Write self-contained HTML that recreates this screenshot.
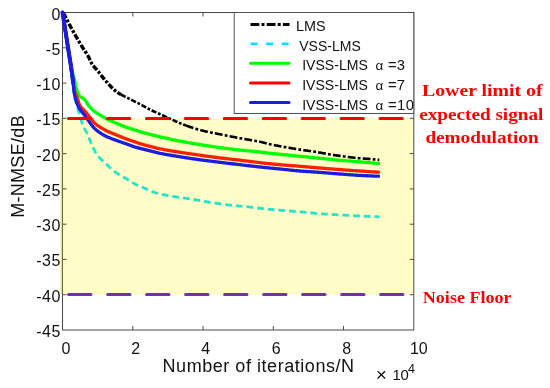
<!DOCTYPE html>
<html><head><meta charset="utf-8"><title>M-NMSE</title>
<style>
html,body{margin:0;padding:0;background:#fff;}
svg{display:block;font-family:"Liberation Sans",sans-serif;}
.tk{font-size:16px;fill:#111;}
.lg{font-size:15.3px;fill:#111;}
.ann{font-family:"Liberation Serif",serif;font-weight:bold;font-size:17.3px;fill:#ff0000;}
</style></head><body>
<svg width="550" height="388" viewBox="0 0 550 388">
<rect width="550" height="388" fill="#fff"/>
<rect x="62.5" y="118.3" width="351.3" height="176.4" fill="#fffcc8"/>

<g stroke="#4a4a4a" stroke-width="1" fill="none">
<rect x="62.5" y="12.5" width="351.3" height="317.5"/>
<line x1="132.8" y1="330.0" x2="132.8" y2="326.0"/><line x1="132.8" y1="12.5" x2="132.8" y2="16.5"/><line x1="203.0" y1="330.0" x2="203.0" y2="326.0"/><line x1="203.0" y1="12.5" x2="203.0" y2="16.5"/><line x1="273.3" y1="330.0" x2="273.3" y2="326.0"/><line x1="273.3" y1="12.5" x2="273.3" y2="16.5"/><line x1="343.5" y1="330.0" x2="343.5" y2="326.0"/><line x1="343.5" y1="12.5" x2="343.5" y2="16.5"/><line x1="62.5" y1="47.8" x2="66.5" y2="47.8"/><line x1="413.8" y1="47.8" x2="409.8" y2="47.8"/><line x1="62.5" y1="83.1" x2="66.5" y2="83.1"/><line x1="413.8" y1="83.1" x2="409.8" y2="83.1"/><line x1="62.5" y1="118.3" x2="66.5" y2="118.3"/><line x1="413.8" y1="118.3" x2="409.8" y2="118.3"/><line x1="62.5" y1="153.6" x2="66.5" y2="153.6"/><line x1="413.8" y1="153.6" x2="409.8" y2="153.6"/><line x1="62.5" y1="188.9" x2="66.5" y2="188.9"/><line x1="413.8" y1="188.9" x2="409.8" y2="188.9"/><line x1="62.5" y1="224.2" x2="66.5" y2="224.2"/><line x1="413.8" y1="224.2" x2="409.8" y2="224.2"/><line x1="62.5" y1="259.4" x2="66.5" y2="259.4"/><line x1="413.8" y1="259.4" x2="409.8" y2="259.4"/><line x1="62.5" y1="294.7" x2="66.5" y2="294.7"/><line x1="413.8" y1="294.7" x2="409.8" y2="294.7"/>
</g>
<line x1="61.4" y1="118.3" x2="61.4" y2="294.7" stroke="#ecec50" stroke-width="1.6"/>
<g fill="none" stroke-linejoin="round">
<polyline points="63.50,13.00 63.75,13.50 64.00,14.00 64.25,14.50 64.50,15.00 64.75,15.50 65.00,15.99 65.25,16.48 65.50,16.98 65.75,17.47 66.00,17.96 66.25,18.44 66.50,18.93 66.75,19.42 67.00,19.90 67.25,20.38 67.50,20.86 67.75,21.34 68.00,21.82 68.25,22.30 68.50,22.77 68.75,23.25 69.00,23.72 69.25,24.19 69.50,24.66 69.75,25.13 70.00,25.60 70.25,26.06 70.50,26.53 70.75,26.99 71.00,27.45 71.25,27.91 71.50,28.37 71.75,28.83 72.00,29.29 72.25,29.75 72.50,30.20 72.75,30.65 73.00,31.11 73.25,31.56 73.50,32.01 73.75,32.46 74.00,32.90 74.25,33.35 74.50,33.80 74.75,34.24 75.00,34.68 75.25,35.13 75.50,35.57 75.75,36.01 76.00,36.45 76.25,36.88 76.50,37.32 76.75,37.75 77.00,38.19 77.25,38.62 77.50,39.05 77.75,39.49 78.00,39.92 78.25,40.35 78.50,40.77 78.75,41.20 79.00,41.63 79.25,42.05 79.50,42.48 79.75,42.90 80.00,43.32 80.25,43.74 80.50,44.16 80.75,44.58 81.00,45.00 81.25,45.41 81.50,45.82 81.75,46.22 82.00,46.62 82.25,47.01 82.50,47.40 82.75,47.78 83.00,48.16 83.25,48.54 83.50,48.91 83.75,49.29 84.00,49.66 84.25,50.03 84.50,50.40 84.75,50.78 85.00,51.15 85.25,51.53 85.50,51.90 85.75,52.29 86.00,52.67 86.25,53.06 86.50,53.45 86.75,53.85 87.00,54.26 87.25,54.67 87.50,55.09 87.75,55.51 88.00,55.95 88.25,56.39 88.50,56.85 88.75,57.34 89.00,57.85 89.25,58.38 89.50,58.91 89.75,59.45 90.00,60.00 90.25,60.54 90.50,61.07 90.75,61.60 91.00,62.11 91.25,62.60 91.50,63.06 91.75,63.50 92.00,63.90 92.25,64.28 92.50,64.64 92.75,65.00 93.00,65.34 93.25,65.67 93.50,65.99 93.75,66.30 94.00,66.61 94.25,66.90 94.50,67.20 94.75,67.48 95.00,67.77 95.25,68.05 95.50,68.32 95.75,68.60 96.00,68.88 96.25,69.15 96.50,69.43 96.75,69.71 97.00,69.99 97.25,70.28 97.50,70.57 97.75,70.87 98.00,71.18 98.25,71.49 98.50,71.80 98.75,72.12 99.00,72.44 99.25,72.76 99.50,73.09 99.75,73.41 100.00,73.74 101.00,75.05 102.00,76.36 103.00,77.64 104.00,78.88 105.00,80.08 106.00,81.26 107.00,82.42 108.00,83.55 109.00,84.64 110.00,85.69 111.00,86.70 112.00,87.69 113.00,88.66 114.00,89.60 115.00,90.48 116.00,91.30 117.00,92.04 118.00,92.72 119.00,93.35 120.00,93.94 121.00,94.50" stroke="#000" stroke-width="3.4" stroke-dasharray="5.8 1.7 2.9 1.7"/>
<polyline points="121.00,94.50 122.00,95.05 123.00,95.59 124.00,96.13 125.00,96.65 126.00,97.16 127.00,97.66 128.00,98.15 129.00,98.65 130.00,99.15 131.00,99.65 132.00,100.15 133.00,100.65 134.00,101.15 135.00,101.65 136.00,102.15 137.00,102.65 138.00,103.14 139.00,103.64 140.00,104.16 141.00,104.68 142.00,105.22 143.00,105.77 144.00,106.32 145.00,106.87 146.00,107.42 147.00,107.97 148.00,108.51 149.00,109.04 150.00,109.55 151.00,110.05 152.00,110.53 153.00,111.01 154.00,111.47 155.00,111.93 156.00,112.39 157.00,112.84 158.00,113.29 159.00,113.75 160.00,114.20 161.00,114.66 162.00,115.11 163.00,115.56 164.00,116.01 165.00,116.46 166.00,116.91 167.00,117.35 168.00,117.80 169.00,118.25 170.00,118.70 171.00,119.16 172.00,119.62 173.00,120.09 174.00,120.55 175.00,121.02 176.00,121.48 177.00,121.93 178.00,122.37 179.00,122.80 180.00,123.20 181.00,123.59 182.00,123.98 183.00,124.37 184.00,124.75 185.00,125.12 186.00,125.49" stroke="#000" stroke-width="2.6" stroke-dasharray="5.3 1.7 2.8 1.7"/>
<polyline points="186.00,125.49 187.00,125.86 188.00,126.22 189.00,126.58 190.00,126.93 191.00,127.27 192.00,127.60 193.00,127.93 194.00,128.25 195.00,128.57 196.00,128.87 197.00,129.17 198.00,129.45 199.00,129.73 200.00,130.00 201.00,130.26 202.00,130.51 203.00,130.75 204.00,130.99 205.00,131.22 206.00,131.45 207.00,131.66 208.00,131.88 209.00,132.09 210.00,132.30 211.00,132.50 212.00,132.70 213.00,132.90 214.00,133.10 215.00,133.30 216.00,133.50 217.00,133.70 218.00,133.90 219.00,134.10 220.00,134.30 221.00,134.50 222.00,134.71 223.00,134.91 224.00,135.11 225.00,135.31 226.00,135.51 227.00,135.71 228.00,135.90 229.00,136.10 230.00,136.29 231.00,136.49 232.00,136.68 233.00,136.87 234.00,137.07 235.00,137.26 236.00,137.45 237.00,137.64 238.00,137.83 239.00,138.02 240.00,138.21 241.00,138.39 242.00,138.58 243.00,138.76 244.00,138.93 245.00,139.11 246.00,139.28 247.00,139.45 248.00,139.62 249.00,139.79 250.00,139.96 251.00,140.13 252.00,140.31 253.00,140.48 254.00,140.65 255.00,140.83 256.00,141.01 257.00,141.20 258.00,141.39 259.00,141.58 260.00,141.78 261.00,141.99 262.00,142.20 263.00,142.43 264.00,142.67 265.00,142.93 266.00,143.19 267.00,143.46 268.00,143.72 269.00,143.97 270.00,144.20 271.00,144.42 272.00,144.63 273.00,144.84 274.00,145.05 275.00,145.25 276.00,145.44 277.00,145.64 278.00,145.83 279.00,146.01 280.00,146.20 281.00,146.38 282.00,146.57 283.00,146.75 284.00,146.93 285.00,147.10 286.00,147.28 287.00,147.45 288.00,147.62 289.00,147.80 290.00,147.97 291.00,148.13 292.00,148.30 293.00,148.47 294.00,148.63 295.00,148.79 296.00,148.96 297.00,149.12 298.00,149.28 299.00,149.44 300.00,149.60 301.00,149.76 302.00,149.91 303.00,150.06 304.00,150.21 305.00,150.36 306.00,150.50 307.00,150.65 308.00,150.79 309.00,150.93 310.00,151.07 311.00,151.22 312.00,151.36 313.00,151.51 314.00,151.65 315.00,151.80 316.00,151.96 317.00,152.11 318.00,152.27 319.00,152.43 320.00,152.60 321.00,152.78 322.00,152.96 323.00,153.16 324.00,153.36 325.00,153.56 326.00,153.76 327.00,153.96 328.00,154.15 329.00,154.33 330.00,154.50 331.00,154.66 332.00,154.81 333.00,154.96 334.00,155.10 335.00,155.24 336.00,155.37 337.00,155.51 338.00,155.64 339.00,155.77 340.00,155.90 341.00,156.03 342.00,156.16 343.00,156.30 344.00,156.43 345.00,156.56 346.00,156.69 347.00,156.82 348.00,156.96 349.00,157.08 350.00,157.21 351.00,157.34 352.00,157.46 353.00,157.58 354.00,157.69 355.00,157.81 356.00,157.91 357.00,158.02 358.00,158.12 359.00,158.21 360.00,158.30 361.00,158.38 362.00,158.46 363.00,158.53 364.00,158.59 365.00,158.66 366.00,158.72 367.00,158.78 368.00,158.85 369.00,158.92 370.00,159.00 371.00,159.08 372.00,159.17 373.00,159.26 374.00,159.35 375.00,159.45 376.00,159.55 377.00,159.65 378.00,159.76 379.00,159.87 379.30,159.90" stroke="#000" stroke-width="2.6" stroke-dasharray="7.8 2.2 2.8 2.2"/>
<polyline points="62.50,12.50 62.75,14.15 63.00,15.81 63.25,17.47 63.50,19.14 63.75,20.81 64.00,22.49 64.25,24.16 64.50,25.85 64.75,27.54 65.00,29.23 65.25,30.93 65.50,32.63 65.75,34.33 66.00,36.04 66.25,37.75 66.50,39.47 66.75,41.20 67.00,42.92 67.25,44.65 67.50,46.39 67.75,48.12 68.00,49.86 68.25,51.60 68.50,53.34 68.75,55.08 69.00,56.83 69.25,58.59 69.50,60.34 69.75,62.11 70.00,63.87 70.25,65.65 70.50,67.43 70.75,69.22 71.00,71.02 71.25,72.82 71.50,74.64 71.75,76.46 72.00,78.30 72.25,80.14 72.50,82.00 72.75,83.93 73.00,85.93 73.25,87.94 73.50,89.88 73.75,91.67 74.00,93.30 74.25,94.89 74.50,96.40 74.75,97.80 75.00,99.08 75.25,100.21 75.50,101.22 75.75,102.15 76.00,103.01 76.25,103.82 76.50,104.60 76.75,105.36 77.00,106.11 77.25,106.88 77.50,107.67 77.75,108.50 78.00,109.33 78.25,110.16 78.50,110.99 78.75,111.82 79.00,112.65 79.25,113.49 79.50,114.34 79.75,115.20 80.00,116.07 80.25,116.94 80.50,117.81 80.75,118.67 81.00,119.57 81.25,120.49 81.50,121.40 81.75,122.24 82.00,123.00 82.25,123.68 82.50,124.34 82.75,124.96 83.00,125.56 83.25,126.13 83.50,126.69 83.75,127.22 84.00,127.74 84.25,128.24 84.50,128.73 84.75,129.22 85.00,129.69 85.25,130.12 85.50,130.53 85.75,130.91 86.00,131.30 86.25,131.70 86.50,132.13 86.75,132.60 87.00,133.10 87.25,133.64 87.50,134.20 87.75,134.78 88.00,135.39 88.25,136.01 88.50,136.65 88.75,137.30 89.00,137.96 89.25,138.62 89.50,139.28 89.75,139.94 90.00,140.59 90.25,141.23 90.50,141.86 90.75,142.48 91.00,143.08 91.25,143.65 91.50,144.20 91.75,144.74 92.00,145.27 92.25,145.81 92.50,146.34 92.75,146.87 93.00,147.40 93.25,147.93 93.50,148.45 93.75,148.96 94.00,149.47 94.25,149.97 94.50,150.46 94.75,150.95 95.00,151.42 95.25,151.88 95.50,152.33 95.75,152.77 96.00,153.19 96.25,153.60 96.50,153.99 96.75,154.37 97.00,154.73 97.25,155.07 97.50,155.40 97.75,155.72 98.00,156.03 98.25,156.34 98.50,156.63 98.75,156.93 99.00,157.21 99.25,157.49 99.50,157.76 99.75,158.03 100.00,158.29 101.00,159.29 102.00,160.23 103.00,161.13 104.00,162.02 105.00,162.90 106.00,163.82 107.00,164.77 108.00,165.73 109.00,166.70 110.00,167.65 111.00,168.59 112.00,169.51 113.00,170.38 114.00,171.21 115.00,171.98 116.00,172.69 117.00,173.36 118.00,173.98 119.00,174.58 120.00,175.16 121.00,175.72 122.00,176.27 123.00,176.82 124.00,177.39 125.00,177.96 126.00,178.56 127.00,179.18 128.00,179.80 129.00,180.43 130.00,181.06 131.00,181.68 132.00,182.29 133.00,182.88 134.00,183.45 135.00,183.99 136.00,184.50 137.00,184.99 138.00,185.46 139.00,185.92 140.00,186.37 141.00,186.80 142.00,187.23 143.00,187.65 144.00,188.07 145.00,188.49 146.00,188.91 147.00,189.34 148.00,189.78 149.00,190.21 150.00,190.64 151.00,191.06 152.00,191.46 153.00,191.85 154.00,192.21 155.00,192.54 156.00,192.85 157.00,193.14 158.00,193.41 159.00,193.68 160.00,193.93 161.00,194.17 162.00,194.41 163.00,194.63 164.00,194.84 165.00,195.05 166.00,195.24 167.00,195.43 168.00,195.61 169.00,195.79 170.00,195.95 171.00,196.12 172.00,196.27 173.00,196.42 174.00,196.57 175.00,196.72 176.00,196.86 177.00,197.00 178.00,197.14 179.00,197.27 180.00,197.41 181.00,197.55 182.00,197.69 183.00,197.83 184.00,197.97 185.00,198.11 186.00,198.26 187.00,198.41 188.00,198.57 189.00,198.73 190.00,198.89 191.00,199.06 192.00,199.23 193.00,199.40 194.00,199.58 195.00,199.75 196.00,199.93 197.00,200.11 198.00,200.28 199.00,200.46 200.00,200.64 201.00,200.81 202.00,200.99 203.00,201.16 204.00,201.33 205.00,201.50 206.00,201.67 207.00,201.84 208.00,202.00 209.00,202.15 210.00,202.31 211.00,202.46 212.00,202.62 213.00,202.77 214.00,202.92 215.00,203.07 216.00,203.22 217.00,203.37 218.00,203.52 219.00,203.67 220.00,203.81 221.00,203.96 222.00,204.10 223.00,204.24 224.00,204.37 225.00,204.51 226.00,204.64 227.00,204.77 228.00,204.90 229.00,205.02 230.00,205.14 231.00,205.25 232.00,205.37 233.00,205.47 234.00,205.58 235.00,205.68 236.00,205.78 237.00,205.87 238.00,205.96 239.00,206.05 240.00,206.14 241.00,206.23 242.00,206.31 243.00,206.40 244.00,206.49 245.00,206.57 246.00,206.66 247.00,206.75 248.00,206.85 249.00,206.94 250.00,207.04 251.00,207.14 252.00,207.25 253.00,207.36 254.00,207.47 255.00,207.60 256.00,207.73 257.00,207.86 258.00,208.00 259.00,208.13 260.00,208.26 261.00,208.39 262.00,208.52 263.00,208.63 264.00,208.74 265.00,208.85 266.00,208.95 267.00,209.05 268.00,209.14 269.00,209.24 270.00,209.33 271.00,209.42 272.00,209.51 273.00,209.60 274.00,209.69 275.00,209.77 276.00,209.86 277.00,209.94 278.00,210.03 279.00,210.11 280.00,210.20 281.00,210.28 282.00,210.37 283.00,210.45 284.00,210.53 285.00,210.61 286.00,210.69 287.00,210.77 288.00,210.84 289.00,210.92 290.00,211.00 291.00,211.07 292.00,211.15 293.00,211.23 294.00,211.31 295.00,211.39 296.00,211.47 297.00,211.55 298.00,211.63 299.00,211.71 300.00,211.80 301.00,211.89 302.00,211.98 303.00,212.08 304.00,212.17 305.00,212.27 306.00,212.37 307.00,212.48 308.00,212.58 309.00,212.68 310.00,212.78 311.00,212.89 312.00,212.99 313.00,213.09 314.00,213.18 315.00,213.28 316.00,213.37 317.00,213.46 318.00,213.54 319.00,213.62 320.00,213.70 321.00,213.77 322.00,213.84 323.00,213.91 324.00,213.98 325.00,214.04 326.00,214.10 327.00,214.16 328.00,214.22 329.00,214.28 330.00,214.34 331.00,214.40 332.00,214.45 333.00,214.51 334.00,214.56 335.00,214.62 336.00,214.67 337.00,214.73 338.00,214.79 339.00,214.84 340.00,214.90 341.00,214.96 342.00,215.02 343.00,215.08 344.00,215.14 345.00,215.20 346.00,215.26 347.00,215.32 348.00,215.38 349.00,215.44 350.00,215.50 351.00,215.56 352.00,215.62 353.00,215.68 354.00,215.74 355.00,215.79 356.00,215.85 357.00,215.91 358.00,215.96 359.00,216.01 360.00,216.07 361.00,216.12 362.00,216.16 363.00,216.21 364.00,216.26 365.00,216.30 366.00,216.34 367.00,216.38 368.00,216.42 369.00,216.46 370.00,216.50 371.00,216.54 372.00,216.57 373.00,216.61 374.00,216.64 375.00,216.67 376.00,216.70 377.00,216.73 378.00,216.76 379.00,216.79 379.30,216.80" stroke="#22e6cc" stroke-width="2.8" stroke-dasharray="6.8 3.9"/>
<polyline points="62.50,12.50 62.75,14.04 63.00,15.57 63.25,17.11 63.50,18.65 63.75,20.18 64.00,21.72 64.25,23.25 64.50,24.79 64.75,26.32 65.00,27.86 65.25,29.39 65.50,30.92 65.75,32.45 66.00,33.98 66.25,35.52 66.50,37.05 66.75,38.58 67.00,40.11 67.25,41.64 67.50,43.17 67.75,44.69 68.00,46.24 68.25,47.81 68.50,49.42 68.75,51.04 69.00,52.68 69.25,54.32 69.50,55.96 69.75,57.59 70.00,59.19 70.25,60.78 70.50,62.32 70.75,63.83 71.00,65.29 71.25,66.69 71.50,68.02 71.75,69.28 72.00,70.46 72.25,71.56 72.50,72.59 72.75,73.56 73.00,74.49 73.25,75.39 73.50,76.27 73.75,77.15 74.00,78.04 74.25,78.96 74.50,79.92 74.75,80.93 75.00,82.00 75.25,83.22 75.50,84.58 75.75,85.94 76.00,87.18 76.25,88.18 76.50,89.06 76.75,89.90 77.00,90.70 77.25,91.46 77.50,92.18 77.75,92.84 78.00,93.45 78.25,93.99 78.50,94.47 78.75,94.89 79.00,95.23 79.25,95.54 79.50,95.82 79.75,96.08 80.00,96.32 80.25,96.55 80.50,96.75 80.75,96.95 81.00,97.13 81.25,97.29 81.50,97.46 81.75,97.61 82.00,97.76 82.25,97.91 82.50,98.06 82.75,98.21 83.00,98.37 83.25,98.53 83.50,98.70 83.75,98.87 84.00,99.07 84.25,99.27 84.50,99.49 84.75,99.73 85.00,99.99 85.25,100.28 85.50,100.61 85.75,100.98 86.00,101.39 86.25,101.82 86.50,102.27 86.75,102.72 87.00,103.18 87.25,103.63 87.50,104.06 87.75,104.46 88.00,104.83 88.25,105.16 88.50,105.47 88.75,105.78 89.00,106.08 89.25,106.37 89.50,106.65 89.75,106.93 90.00,107.21 90.25,107.47 90.50,107.74 90.75,107.99 91.00,108.24 91.25,108.49 91.50,108.73 91.75,108.97 92.00,109.20 92.25,109.43 92.50,109.66 92.75,109.88 93.00,110.10 93.25,110.31 93.50,110.52 93.75,110.73 94.00,110.94 94.25,111.14 94.50,111.34 94.75,111.54 95.00,111.73 95.25,111.92 95.50,112.10 95.75,112.29 96.00,112.47 96.25,112.64 96.50,112.82 96.75,112.99 97.00,113.16 97.25,113.33 97.50,113.49 97.75,113.66 98.00,113.82 98.25,113.98 98.50,114.14 98.75,114.30 99.00,114.45 99.25,114.61 99.50,114.77 99.75,114.92 100.00,115.08 101.00,115.69 102.00,116.28 103.00,116.86 104.00,117.41 105.00,117.95 106.00,118.47 107.00,118.98 108.00,119.48 109.00,119.96 110.00,120.44 111.00,120.91 112.00,121.37 113.00,121.83 114.00,122.27 115.00,122.71 116.00,123.15 117.00,123.57 118.00,123.99 119.00,124.40 120.00,124.81 121.00,125.20 122.00,125.59 123.00,125.98 124.00,126.36 125.00,126.73 126.00,127.09 127.00,127.44 128.00,127.79 129.00,128.13 130.00,128.47 131.00,128.80 132.00,129.13 133.00,129.45 134.00,129.78 135.00,130.10 136.00,130.43 137.00,130.76 138.00,131.08 139.00,131.40 140.00,131.70 141.00,131.99 142.00,132.27 143.00,132.55 144.00,132.82 145.00,133.09 146.00,133.36 147.00,133.62 148.00,133.88 149.00,134.13 150.00,134.38 151.00,134.63 152.00,134.88 153.00,135.13 154.00,135.37 155.00,135.61 156.00,135.85 157.00,136.09 158.00,136.33 159.00,136.56 160.00,136.80 161.00,137.04 162.00,137.27 163.00,137.51 164.00,137.74 165.00,137.97 166.00,138.20 167.00,138.43 168.00,138.66 169.00,138.89 170.00,139.11 171.00,139.33 172.00,139.55 173.00,139.77 174.00,139.98 175.00,140.19 176.00,140.40 177.00,140.61 178.00,140.81 179.00,141.01 180.00,141.20 181.00,141.39 182.00,141.58 183.00,141.76 184.00,141.94 185.00,142.12 186.00,142.29 187.00,142.47 188.00,142.64 189.00,142.81 190.00,142.97 191.00,143.14 192.00,143.30 193.00,143.47 194.00,143.63 195.00,143.79 196.00,143.95 197.00,144.12 198.00,144.28 199.00,144.44 200.00,144.60 201.00,144.76 202.00,144.93 203.00,145.09 204.00,145.25 205.00,145.41 206.00,145.58 207.00,145.74 208.00,145.90 209.00,146.06 210.00,146.22 211.00,146.37 212.00,146.53 213.00,146.68 214.00,146.84 215.00,146.99 216.00,147.14 217.00,147.28 218.00,147.42 219.00,147.56 220.00,147.70 221.00,147.83 222.00,147.97 223.00,148.10 224.00,148.23 225.00,148.36 226.00,148.48 227.00,148.61 228.00,148.73 229.00,148.85 230.00,148.97 231.00,149.09 232.00,149.21 233.00,149.33 234.00,149.44 235.00,149.55 236.00,149.67 237.00,149.78 238.00,149.89 239.00,149.99 240.00,150.10 241.00,150.20 242.00,150.30 243.00,150.40 244.00,150.50 245.00,150.59 246.00,150.68 247.00,150.77 248.00,150.86 249.00,150.95 250.00,151.04 251.00,151.12 252.00,151.21 253.00,151.30 254.00,151.39 255.00,151.49 256.00,151.58 257.00,151.68 258.00,151.78 259.00,151.89 260.00,152.00 261.00,152.12 262.00,152.24 263.00,152.37 264.00,152.51 265.00,152.65 266.00,152.79 267.00,152.92 268.00,153.06 269.00,153.18 270.00,153.30 271.00,153.41 272.00,153.52 273.00,153.62 274.00,153.72 275.00,153.82 276.00,153.91 277.00,154.01 278.00,154.10 279.00,154.20 280.00,154.30 281.00,154.40 282.00,154.50 283.00,154.60 284.00,154.70 285.00,154.80 286.00,154.90 287.00,155.00 288.00,155.10 289.00,155.20 290.00,155.30 291.00,155.40 292.00,155.50 293.00,155.60 294.00,155.70 295.00,155.80 296.00,155.90 297.00,156.00 298.00,156.10 299.00,156.20 300.00,156.30 301.00,156.40 302.00,156.50 303.00,156.60 304.00,156.70 305.00,156.80 306.00,156.90 307.00,157.00 308.00,157.10 309.00,157.20 310.00,157.30 311.00,157.40 312.00,157.50 313.00,157.60 314.00,157.70 315.00,157.80 316.00,157.90 317.00,158.00 318.00,158.10 319.00,158.20 320.00,158.30 321.00,158.40 322.00,158.50 323.00,158.60 324.00,158.71 325.00,158.81 326.00,158.91 327.00,159.02 328.00,159.12 329.00,159.22 330.00,159.33 331.00,159.43 332.00,159.53 333.00,159.63 334.00,159.73 335.00,159.83 336.00,159.93 337.00,160.02 338.00,160.12 339.00,160.21 340.00,160.30 341.00,160.39 342.00,160.47 343.00,160.56 344.00,160.64 345.00,160.72 346.00,160.80 347.00,160.88 348.00,160.96 349.00,161.04 350.00,161.11 351.00,161.19 352.00,161.27 353.00,161.35 354.00,161.42 355.00,161.50 356.00,161.58 357.00,161.66 358.00,161.74 359.00,161.82 360.00,161.90 361.00,161.98 362.00,162.07 363.00,162.15 364.00,162.23 365.00,162.32 366.00,162.40 367.00,162.49 368.00,162.57 369.00,162.66 370.00,162.75 371.00,162.83 372.00,162.92 373.00,163.01 374.00,163.09 375.00,163.18 376.00,163.27 377.00,163.36 378.00,163.45 378.60,163.50" stroke="#00ff00" stroke-width="3.3" stroke-linecap="round"/>
<polyline points="62.50,12.50 62.75,14.05 63.00,15.61 63.25,17.17 63.50,18.74 63.75,20.30 64.00,21.88 64.25,23.46 64.50,25.04 64.75,26.62 65.00,28.21 65.25,29.81 65.50,31.41 65.75,33.01 66.00,34.62 66.25,36.23 66.50,37.84 66.75,39.46 67.00,41.09 67.25,42.71 67.50,44.35 67.75,45.98 68.00,47.63 68.25,49.28 68.50,50.94 68.75,52.61 69.00,54.28 69.25,55.96 69.50,57.65 69.75,59.34 70.00,61.03 70.25,62.72 70.50,64.42 70.75,66.11 71.00,67.81 71.25,69.51 71.50,71.21 71.75,72.90 72.00,74.59 72.25,76.28 72.50,77.97 72.75,79.65 73.00,81.33 73.25,83.05 73.50,84.90 73.75,86.76 74.00,88.44 74.25,89.79 74.50,90.77 74.75,91.63 75.00,92.38 75.25,93.07 75.50,93.69 75.75,94.27 76.00,94.83 76.25,95.40 76.50,95.98 76.75,96.60 77.00,97.28 77.25,98.00 77.50,98.76 77.75,99.54 78.00,100.32 78.25,101.10 78.50,101.87 78.75,102.60 79.00,103.30 79.25,103.94 79.50,104.51 79.75,105.01 80.00,105.44 80.25,105.84 80.50,106.22 80.75,106.58 81.00,106.91 81.25,107.23 81.50,107.54 81.75,107.83 82.00,108.11 82.25,108.38 82.50,108.64 82.75,108.90 83.00,109.16 83.25,109.41 83.50,109.67 83.75,109.93 84.00,110.19 84.25,110.47 84.50,110.75 84.75,111.04 85.00,111.34 85.25,111.64 85.50,111.95 85.75,112.25 86.00,112.55 86.25,112.86 86.50,113.16 86.75,113.46 87.00,113.77 87.25,114.07 87.50,114.38 87.75,114.68 88.00,114.98 88.25,115.29 88.50,115.59 88.75,115.90 89.00,116.20 89.25,116.51 89.50,116.82 89.75,117.14 90.00,117.46 90.25,117.79 90.50,118.12 90.75,118.46 91.00,118.79 91.25,119.12 91.50,119.45 91.75,119.79 92.00,120.11 92.25,120.44 92.50,120.76 92.75,121.07 93.00,121.38 93.25,121.68 93.50,121.97 93.75,122.25 94.00,122.53 94.25,122.79 94.50,123.04 94.75,123.28 95.00,123.50 95.25,123.71 95.50,123.92 95.75,124.13 96.00,124.33 96.25,124.53 96.50,124.73 96.75,124.92 97.00,125.11 97.25,125.29 97.50,125.48 97.75,125.66 98.00,125.83 98.25,126.00 98.50,126.18 98.75,126.34 99.00,126.51 99.25,126.67 99.50,126.83 99.75,126.99 100.00,127.15 101.00,127.75 102.00,128.32 103.00,128.88 104.00,129.42 105.00,129.95 106.00,130.46 107.00,130.95 108.00,131.43 109.00,131.88 110.00,132.32 111.00,132.75 112.00,133.17 113.00,133.58 114.00,134.00 115.00,134.42 116.00,134.84 117.00,135.25 118.00,135.67 119.00,136.08 120.00,136.48 121.00,136.88 122.00,137.28 123.00,137.67 124.00,138.05 125.00,138.43 126.00,138.79 127.00,139.15 128.00,139.51 129.00,139.86 130.00,140.20 131.00,140.54 132.00,140.88 133.00,141.22 134.00,141.56 135.00,141.90 136.00,142.24 137.00,142.60 138.00,142.95 139.00,143.28 140.00,143.60 141.00,143.90 142.00,144.20 143.00,144.49 144.00,144.78 145.00,145.07 146.00,145.35 147.00,145.63 148.00,145.90 149.00,146.17 150.00,146.44 151.00,146.69 152.00,146.95 153.00,147.20 154.00,147.44 155.00,147.68 156.00,147.92 157.00,148.15 158.00,148.37 159.00,148.59 160.00,148.80 161.00,149.01 162.00,149.21 163.00,149.41 164.00,149.60 165.00,149.79 166.00,149.97 167.00,150.15 168.00,150.33 169.00,150.50 170.00,150.68 171.00,150.85 172.00,151.01 173.00,151.18 174.00,151.34 175.00,151.50 176.00,151.66 177.00,151.82 178.00,151.98 179.00,152.14 180.00,152.30 181.00,152.46 182.00,152.61 183.00,152.77 184.00,152.92 185.00,153.07 186.00,153.22 187.00,153.36 188.00,153.51 189.00,153.65 190.00,153.80 191.00,153.94 192.00,154.08 193.00,154.22 194.00,154.36 195.00,154.50 196.00,154.64 197.00,154.78 198.00,154.92 199.00,155.06 200.00,155.20 201.00,155.34 202.00,155.48 203.00,155.62 204.00,155.76 205.00,155.90 206.00,156.04 207.00,156.18 208.00,156.31 209.00,156.45 210.00,156.59 211.00,156.73 212.00,156.86 213.00,156.99 214.00,157.13 215.00,157.26 216.00,157.39 217.00,157.52 218.00,157.65 219.00,157.77 220.00,157.90 221.00,158.02 222.00,158.14 223.00,158.26 224.00,158.38 225.00,158.50 226.00,158.61 227.00,158.72 228.00,158.84 229.00,158.95 230.00,159.06 231.00,159.17 232.00,159.28 233.00,159.40 234.00,159.51 235.00,159.62 236.00,159.73 237.00,159.85 238.00,159.96 239.00,160.08 240.00,160.20 241.00,160.32 242.00,160.44 243.00,160.57 244.00,160.70 245.00,160.82 246.00,160.95 247.00,161.08 248.00,161.21 249.00,161.34 250.00,161.47 251.00,161.60 252.00,161.73 253.00,161.86 254.00,161.98 255.00,162.11 256.00,162.23 257.00,162.35 258.00,162.47 259.00,162.59 260.00,162.70 261.00,162.81 262.00,162.92 263.00,163.03 264.00,163.14 265.00,163.24 266.00,163.35 267.00,163.45 268.00,163.55 269.00,163.65 270.00,163.76 271.00,163.85 272.00,163.95 273.00,164.05 274.00,164.15 275.00,164.24 276.00,164.34 277.00,164.43 278.00,164.52 279.00,164.61 280.00,164.70 281.00,164.79 282.00,164.87 283.00,164.96 284.00,165.04 285.00,165.12 286.00,165.20 287.00,165.28 288.00,165.36 289.00,165.44 290.00,165.52 291.00,165.59 292.00,165.67 293.00,165.75 294.00,165.82 295.00,165.90 296.00,165.98 297.00,166.06 298.00,166.14 299.00,166.22 300.00,166.30 301.00,166.38 302.00,166.47 303.00,166.55 304.00,166.64 305.00,166.72 306.00,166.81 307.00,166.89 308.00,166.98 309.00,167.06 310.00,167.15 311.00,167.24 312.00,167.32 313.00,167.41 314.00,167.49 315.00,167.58 316.00,167.66 317.00,167.75 318.00,167.83 319.00,167.92 320.00,168.00 321.00,168.08 322.00,168.16 323.00,168.25 324.00,168.33 325.00,168.41 326.00,168.49 327.00,168.58 328.00,168.66 329.00,168.74 330.00,168.82 331.00,168.90 332.00,168.98 333.00,169.06 334.00,169.14 335.00,169.22 336.00,169.30 337.00,169.37 338.00,169.45 339.00,169.52 340.00,169.60 341.00,169.67 342.00,169.75 343.00,169.82 344.00,169.89 345.00,169.97 346.00,170.04 347.00,170.11 348.00,170.18 349.00,170.25 350.00,170.32 351.00,170.39 352.00,170.46 353.00,170.53 354.00,170.59 355.00,170.66 356.00,170.73 357.00,170.80 358.00,170.87 359.00,170.93 360.00,171.00 361.00,171.07 362.00,171.13 363.00,171.20 364.00,171.27 365.00,171.33 366.00,171.40 367.00,171.46 368.00,171.53 369.00,171.59 370.00,171.66 371.00,171.72 372.00,171.79 373.00,171.85 374.00,171.91 375.00,171.98 376.00,172.04 377.00,172.10 378.00,172.16 378.60,172.20" stroke="#ff2000" stroke-width="3.3" stroke-linecap="round"/>
<polyline points="62.50,12.50 62.75,14.05 63.00,15.61 63.25,17.17 63.50,18.74 63.75,20.30 64.00,21.88 64.25,23.46 64.50,25.04 64.75,26.62 65.00,28.21 65.25,29.81 65.50,31.41 65.75,33.01 66.00,34.62 66.25,36.23 66.50,37.84 66.75,39.46 67.00,41.09 67.25,42.71 67.50,44.35 67.75,45.98 68.00,47.58 68.25,49.16 68.50,50.73 68.75,52.28 69.00,53.82 69.25,55.36 69.50,56.90 69.75,58.45 70.00,60.00 70.25,61.57 70.50,63.16 70.75,64.78 71.00,66.42 71.25,68.10 71.50,69.81 71.75,71.57 72.00,73.37 72.25,75.23 72.50,77.14 72.75,79.12 73.00,81.16 73.25,83.40 73.50,86.12 73.75,88.91 74.00,91.28 74.25,92.93 74.50,94.33 74.75,95.58 75.00,96.70 75.25,97.72 75.50,98.64 75.75,99.51 76.00,100.32 76.25,101.11 76.50,101.86 76.75,102.58 77.00,103.26 77.25,103.92 77.50,104.55 77.75,105.15 78.00,105.72 78.25,106.26 78.50,106.78 78.75,107.27 79.00,107.74 79.25,108.19 79.50,108.61 79.75,109.01 80.00,109.39 80.25,109.75 80.50,110.10 80.75,110.43 81.00,110.76 81.25,111.07 81.50,111.37 81.75,111.67 82.00,111.97 82.25,112.27 82.50,112.56 82.75,112.86 83.00,113.17 83.25,113.48 83.50,113.80 83.75,114.13 84.00,114.47 84.25,114.82 84.50,115.17 84.75,115.52 85.00,115.87 85.25,116.22 85.50,116.58 85.75,116.93 86.00,117.29 86.25,117.64 86.50,117.99 86.75,118.34 87.00,118.69 87.25,119.03 87.50,119.37 87.75,119.70 88.00,120.04 88.25,120.38 88.50,120.72 88.75,121.07 89.00,121.42 89.25,121.77 89.50,122.12 89.75,122.47 90.00,122.81 90.25,123.16 90.50,123.51 90.75,123.85 91.00,124.20 91.25,124.53 91.50,124.87 91.75,125.20 92.00,125.53 92.25,125.85 92.50,126.16 92.75,126.47 93.00,126.78 93.25,127.07 93.50,127.36 93.75,127.64 94.00,127.91 94.25,128.17 94.50,128.43 94.75,128.67 95.00,128.90 95.25,129.12 95.50,129.34 95.75,129.56 96.00,129.78 96.25,129.99 96.50,130.19 96.75,130.40 97.00,130.60 97.25,130.80 97.50,131.00 97.75,131.19 98.00,131.38 98.25,131.57 98.50,131.75 98.75,131.93 99.00,132.11 99.25,132.29 99.50,132.46 99.75,132.63 100.00,132.80 101.00,133.46 102.00,134.07 103.00,134.66 104.00,135.22 105.00,135.75 106.00,136.25 107.00,136.73 108.00,137.18 109.00,137.60 110.00,138.01 111.00,138.41 112.00,138.79 113.00,139.17 114.00,139.55 115.00,139.92 116.00,140.30 117.00,140.67 118.00,141.02 119.00,141.37 120.00,141.72 121.00,142.06 122.00,142.40 123.00,142.74 124.00,143.08 125.00,143.43 126.00,143.79 127.00,144.15 128.00,144.52 129.00,144.90 130.00,145.27 131.00,145.64 132.00,146.00 133.00,146.35 134.00,146.69 135.00,147.01 136.00,147.31 137.00,147.59 138.00,147.85 139.00,148.11 140.00,148.37 141.00,148.63 142.00,148.89 143.00,149.15 144.00,149.41 145.00,149.68 146.00,149.94 147.00,150.20 148.00,150.46 149.00,150.71 150.00,150.97 151.00,151.22 152.00,151.47 153.00,151.72 154.00,151.96 155.00,152.20 156.00,152.43 157.00,152.66 158.00,152.88 159.00,153.09 160.00,153.30 161.00,153.50 162.00,153.70 163.00,153.89 164.00,154.08 165.00,154.27 166.00,154.45 167.00,154.63 168.00,154.81 169.00,154.99 170.00,155.16 171.00,155.33 172.00,155.50 173.00,155.66 174.00,155.83 175.00,155.99 176.00,156.15 177.00,156.32 178.00,156.48 179.00,156.64 180.00,156.80 181.00,156.96 182.00,157.12 183.00,157.28 184.00,157.44 185.00,157.60 186.00,157.75 187.00,157.91 188.00,158.06 189.00,158.21 190.00,158.36 191.00,158.51 192.00,158.66 193.00,158.81 194.00,158.95 195.00,159.10 196.00,159.24 197.00,159.38 198.00,159.52 199.00,159.66 200.00,159.80 201.00,159.94 202.00,160.07 203.00,160.20 204.00,160.33 205.00,160.46 206.00,160.59 207.00,160.71 208.00,160.84 209.00,160.96 210.00,161.08 211.00,161.21 212.00,161.33 213.00,161.45 214.00,161.57 215.00,161.69 216.00,161.81 217.00,161.93 218.00,162.06 219.00,162.18 220.00,162.30 221.00,162.42 222.00,162.54 223.00,162.67 224.00,162.79 225.00,162.91 226.00,163.03 227.00,163.15 228.00,163.27 229.00,163.39 230.00,163.51 231.00,163.63 232.00,163.75 233.00,163.87 234.00,163.99 235.00,164.11 236.00,164.23 237.00,164.35 238.00,164.46 239.00,164.58 240.00,164.70 241.00,164.82 242.00,164.94 243.00,165.05 244.00,165.17 245.00,165.29 246.00,165.41 247.00,165.53 248.00,165.64 249.00,165.76 250.00,165.88 251.00,165.99 252.00,166.11 253.00,166.22 254.00,166.34 255.00,166.45 256.00,166.56 257.00,166.67 258.00,166.78 259.00,166.89 260.00,167.00 261.00,167.11 262.00,167.21 263.00,167.32 264.00,167.42 265.00,167.52 266.00,167.62 267.00,167.72 268.00,167.82 269.00,167.92 270.00,168.02 271.00,168.12 272.00,168.21 273.00,168.31 274.00,168.41 275.00,168.51 276.00,168.60 277.00,168.70 278.00,168.80 279.00,168.90 280.00,169.00 281.00,169.10 282.00,169.20 283.00,169.31 284.00,169.41 285.00,169.52 286.00,169.62 287.00,169.73 288.00,169.83 289.00,169.94 290.00,170.04 291.00,170.15 292.00,170.25 293.00,170.35 294.00,170.45 295.00,170.55 296.00,170.65 297.00,170.74 298.00,170.83 299.00,170.92 300.00,171.00 301.00,171.08 302.00,171.16 303.00,171.23 304.00,171.31 305.00,171.38 306.00,171.45 307.00,171.52 308.00,171.59 309.00,171.65 310.00,171.72 311.00,171.78 312.00,171.85 313.00,171.92 314.00,171.98 315.00,172.05 316.00,172.12 317.00,172.18 318.00,172.25 319.00,172.33 320.00,172.40 321.00,172.48 322.00,172.55 323.00,172.63 324.00,172.71 325.00,172.79 326.00,172.87 327.00,172.95 328.00,173.03 329.00,173.12 330.00,173.20 331.00,173.28 332.00,173.37 333.00,173.45 334.00,173.53 335.00,173.61 336.00,173.69 337.00,173.77 338.00,173.85 339.00,173.92 340.00,174.00 341.00,174.08 342.00,174.15 343.00,174.23 344.00,174.30 345.00,174.38 346.00,174.45 347.00,174.53 348.00,174.61 349.00,174.68 350.00,174.75 351.00,174.83 352.00,174.90 353.00,174.97 354.00,175.04 355.00,175.10 356.00,175.17 357.00,175.23 358.00,175.29 359.00,175.35 360.00,175.40 361.00,175.45 362.00,175.50 363.00,175.56 364.00,175.61 365.00,175.65 366.00,175.70 367.00,175.75 368.00,175.80 369.00,175.84 370.00,175.88 371.00,175.93 372.00,175.97 373.00,176.01 374.00,176.04 375.00,176.08 376.00,176.12 377.00,176.15 378.00,176.18 378.60,176.20" stroke="#1c1ce0" stroke-width="3.3" stroke-linecap="round"/>
<polyline points="62.50,12.50 62.75,14.05 63.00,15.61 63.25,17.17 63.50,18.74 63.75,20.30 64.00,21.88 64.25,23.46 64.50,25.04 64.75,26.62 65.00,28.21 65.25,29.81 65.50,31.41 65.75,33.01 66.00,34.62 66.25,36.23 66.50,37.84 66.75,39.46 67.00,41.09 67.25,42.71 67.50,44.35 67.75,45.98 68.00,47.58 68.25,49.16 68.50,50.73 68.75,52.28 69.00,53.82 69.25,55.36 69.50,56.90 69.75,58.45 70.00,60.00 70.25,61.57 70.50,63.16 70.75,64.78 71.00,66.42 71.25,68.10 71.50,69.81 71.75,71.57 72.00,73.37 72.25,75.23 72.50,77.14 72.75,79.12 73.00,81.16 73.25,83.40" stroke="#1c1ce0" stroke-width="4" stroke-linecap="round"/>
<line x1="68.5" y1="118.5" x2="404" y2="118.5" stroke="#ff0000" stroke-width="3" stroke-linecap="round" stroke-dasharray="22.4 16.53"/>
<line x1="68.6" y1="294.6" x2="404" y2="294.6" stroke="#7332a4" stroke-width="3" stroke-linecap="round" stroke-dasharray="22.4 16.6"/>
</g>
<rect x="234.2" y="12.5" width="179.6" height="101" fill="#fff" stroke="#505050" stroke-width="1"/>
<g fill="none">
<line x1="250.5" y1="24.5" x2="289.5" y2="24.5" stroke="#000" stroke-width="3" stroke-dasharray="8.8 2.2 3 2.2"/>
<line x1="250.5" y1="43.8" x2="289.5" y2="43.8" stroke="#00e5ff" stroke-width="2.4" stroke-dasharray="7 8.6"/>
<line x1="250.5" y1="63.3" x2="289" y2="63.3" stroke="#00ff00" stroke-width="3" stroke-linecap="round"/>
<line x1="250.5" y1="82.9" x2="289" y2="82.9" stroke="#ff0000" stroke-width="3" stroke-linecap="round"/>
<line x1="250.5" y1="102.5" x2="289" y2="102.5" stroke="#1818f0" stroke-width="3" stroke-linecap="round"/>
</g>
<g class="lg" lengthAdjust="spacingAndGlyphs">
<text x="296.1" y="30.7" textLength="29.6" lengthAdjust="spacingAndGlyphs">LMS</text>
<text x="299.2" y="50.5" textLength="61.6" lengthAdjust="spacingAndGlyphs">VSS-LMS</text>
<text x="302.2" y="70.2" textLength="65.6" lengthAdjust="spacingAndGlyphs">IVSS-LMS</text><text x="375.4" y="70.2" font-size="13.5">α</text><text x="388" y="70.2" font-size="14.8">=3</text>
<text x="302.2" y="89.9" textLength="65.6" lengthAdjust="spacingAndGlyphs">IVSS-LMS</text><text x="375.4" y="89.9" font-size="13.5">α</text><text x="388" y="89.9" font-size="14.8">=7</text>
<text x="302.2" y="109.6" textLength="65.6" lengthAdjust="spacingAndGlyphs">IVSS-LMS</text><text x="375.4" y="109.6" font-size="13.5">α</text><text x="388" y="109.6" font-size="14.8" textLength="26" lengthAdjust="spacing">=10</text>
</g>
<g class="tk"><text x="66.0" y="354" text-anchor="middle">0</text><text x="135.6" y="354" text-anchor="middle">2</text><text x="205.8" y="354" text-anchor="middle">4</text><text x="276.3" y="354" text-anchor="middle">6</text><text x="346.8" y="354" text-anchor="middle">8</text><text x="418.8" y="354" text-anchor="middle">10</text><text x="60.4" y="20.2" text-anchor="end">0</text><text x="60.9" y="55.4" text-anchor="end" letter-spacing="0.5">-5</text><text x="60.9" y="90.4" text-anchor="end" letter-spacing="0.5">-10</text><text x="60.9" y="125.4" text-anchor="end" letter-spacing="0.5">-15</text><text x="60.9" y="160.5" text-anchor="end" letter-spacing="0.5">-20</text><text x="60.9" y="195.8" text-anchor="end" letter-spacing="0.5">-25</text><text x="60.9" y="231.1" text-anchor="end" letter-spacing="0.5">-30</text><text x="60.9" y="266.3" text-anchor="end" letter-spacing="0.5">-35</text><text x="60.9" y="301.6" text-anchor="end" letter-spacing="0.5">-40</text><text x="60.9" y="336.9" text-anchor="end" letter-spacing="0.5">-45</text>
<text x="375.7" y="381.2" font-size="19">×</text><text x="392.4" y="379.6" font-size="14.8">10</text><text x="408" y="373.4" font-size="12.5">4</text>
</g>
<text x="258.3" y="372.4" text-anchor="middle" font-size="18" fill="#111" textLength="191.5" lengthAdjust="spacing">Number of iterations/N</text>
<text transform="translate(23.9 166.6) rotate(-90)" text-anchor="middle" font-size="18" fill="#111" textLength="102.5" lengthAdjust="spacing">M-NMSE/dB</text>
<g class="ann">
<text x="422" y="96.4" textLength="120.6" lengthAdjust="spacingAndGlyphs">Lower limit of</text>
<text x="419.2" y="119.8" textLength="124.2" lengthAdjust="spacingAndGlyphs">expected signal</text>
<text x="425.4" y="142.9" textLength="113.2" lengthAdjust="spacingAndGlyphs">demodulation</text>
<text x="422.8" y="302.8" textLength="88.8" lengthAdjust="spacingAndGlyphs">Noise Floor</text>
</g>
</svg>
</body></html>
